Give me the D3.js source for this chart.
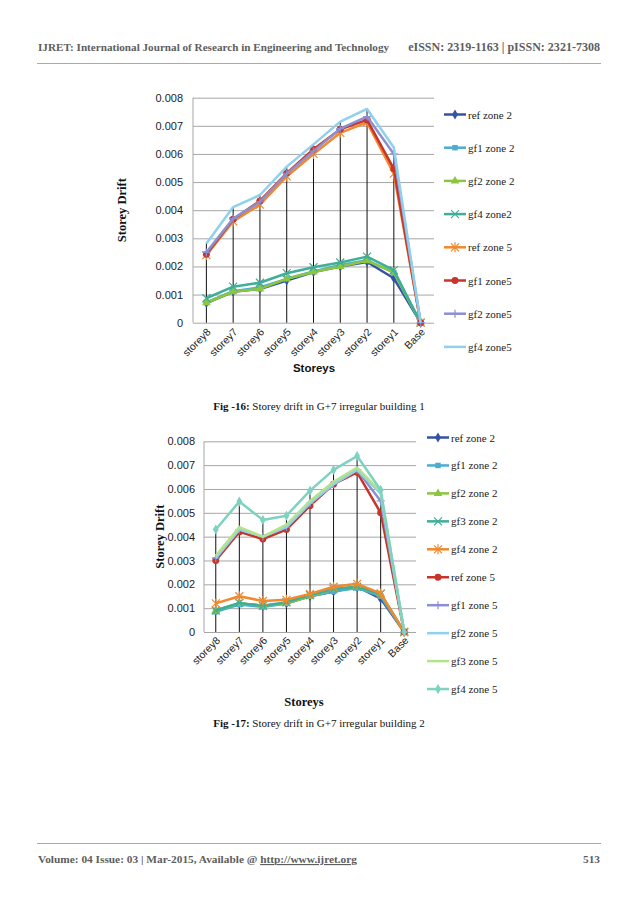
<!DOCTYPE html>
<html>
<head>
<meta charset="utf-8">
<script src="https://cdn.jsdelivr.net/npm/d3@7/dist/d3.min.js"></script>
<style>
  html, body { margin: 0; padding: 0; background: #fff; }
  svg { display: block; }
</style>
</head>
<body>
<svg id="page" width="638" height="903"></svg>
<script>
// ---------------- DATA ----------------
const categories = ["storey8", "storey7", "storey6", "storey5", "storey4", "storey3", "storey2", "storey1", "Base"];
const yTickValues = [0, 0.001, 0.002, 0.003, 0.004, 0.005, 0.006, 0.007, 0.008];

// Fig -16 (building 1)
const fig16Names = ["ref zone 2", "gf1 zone 2", "gf2 zone 2", "gf4 zone2", "ref zone 5", "gf1 zone5", "gf2 zone5", "gf4 zone5"];
const f16RefZ2 = [0.0007, 0.0011, 0.0012, 0.0015, 0.0018, 0.0020, 0.00216, 0.00158, 0];
const f16Gf1Z2 = [0.00072, 0.00112, 0.00125, 0.00156, 0.00182, 0.00205, 0.00222, 0.00178, 0];
const f16Gf2Z2 = [0.00071, 0.0011, 0.0012, 0.00156, 0.0018, 0.002, 0.0022, 0.0018, 0];
const f16Gf4Z2 = [0.00087, 0.00128, 0.00142, 0.00176, 0.00197, 0.00214, 0.00235, 0.00187, 0];
const f16RefZ5 = [0.0024, 0.0036, 0.0042, 0.0052, 0.0060, 0.00675, 0.00712, 0.0053, 0];
const f16Gf1Z5 = [0.00243, 0.00368, 0.00433, 0.00532, 0.00617, 0.00688, 0.00721, 0.00547, 0];
const f16Gf2Z5 = [0.0025, 0.0037, 0.0043, 0.0053, 0.0061, 0.0069, 0.00733, 0.0060, 0];
const f16Gf4Z5 = [0.00282, 0.00411, 0.00454, 0.00555, 0.00634, 0.00715, 0.0076, 0.00623, 0];

// Fig -17 (building 2)
const fig17Names = ["ref zone 2", "gf1 zone 2", "gf2 zone 2", "gf3 zone 2", "gf4 zone 2", "ref zone 5", "gf1 zone 5", "gf2 zone 5", "gf3 zone 5", "gf4 zone 5"];
const f17RefZ2 = [0.0009, 0.0012, 0.0011, 0.0012, 0.0015, 0.0017, 0.0019, 0.0014, 0];
const f17Gf1Z2 = [0.00085, 0.00115, 0.00105, 0.0012, 0.0015, 0.0017, 0.00185, 0.0015, 0];
const f17Gf2Z2 = [0.0009, 0.0012, 0.0011, 0.0012, 0.0015, 0.0018, 0.0019, 0.0016, 0];
const f17Gf3Z2 = [0.0009, 0.00122, 0.0011, 0.00125, 0.00155, 0.0018, 0.0019, 0.0016, 0];
const f17Gf4Z2 = [0.0012, 0.0015, 0.0013, 0.00135, 0.0016, 0.0019, 0.00202, 0.00162, 0];
const f17RefZ5 = [0.0030, 0.0042, 0.0039, 0.0043, 0.0053, 0.0062, 0.0067, 0.0050, 0];
const f17Gf1Z5 = [0.0031, 0.0043, 0.0040, 0.0044, 0.0054, 0.0062, 0.0068, 0.0055, 0];
const f17Gf2Z5 = [0.0031, 0.0043, 0.0040, 0.0044, 0.0054, 0.0062, 0.0068, 0.0058, 0];
const f17Gf3Z5 = [0.0032, 0.0044, 0.0040, 0.0045, 0.0055, 0.0063, 0.0069, 0.0059, 0];
const f17Gf4Z5 = [0.0043, 0.00547, 0.0047, 0.00488, 0.00593, 0.0068, 0.00738, 0.00596, 0];

// ---------------- STYLE ----------------
const fig16Style = [
  { color: "#3553a3", marker: "diamond" },
  { color: "#4aaed0", marker: "square" },
  { color: "#8cc63e", marker: "triangle" },
  { color: "#3fae98", marker: "x" },
  { color: "#f0892f", marker: "asterisk" },
  { color: "#c7352a", marker: "circle" },
  { color: "#8c8fd0", marker: "plus" },
  { color: "#8fd0ec", marker: "none" }
];
const fig17Style = [
  { color: "#3553a3", marker: "diamond" },
  { color: "#4aaed0", marker: "square" },
  { color: "#8cc63e", marker: "triangle" },
  { color: "#3fae98", marker: "x" },
  { color: "#f0892f", marker: "asterisk" },
  { color: "#c7352a", marker: "circle" },
  { color: "#8c8fd0", marker: "plus" },
  { color: "#8fd0ec", marker: "none" },
  { color: "#b3e48a", marker: "none" },
  { color: "#7fd2bf", marker: "diamond" }
];

const svg = d3.select("#page");
svg.append("rect").attr("width", 638).attr("height", 903).attr("fill", "#fff");

const serif = "'Liberation Serif', 'Times New Roman', serif";
const sans = "'Liberation Sans', Arial, sans-serif";

// font size that makes a string fit a target width (no glyph squeezing)
const measureCtx = document.createElement("canvas").getContext("2d");
function fitSize(str, weight, family, target) {
  measureCtx.font = `${weight} 20px ${family}`;
  return 20 * target / measureCtx.measureText(str).width;
}

// ---------------- HEADER / FOOTER ----------------
const headLeft = "IJRET: International Journal of Research in Engineering and Technology";
const headRight = "eISSN: 2319-1163 | pISSN: 2321-7308";
svg.append("text").attr("x", 38).attr("y", 51)
  .attr("font-family", serif).attr("font-weight", "bold")
  .attr("font-size", fitSize(headLeft, "bold", serif, 352))
  .attr("fill", "#5e5e5e").text(headLeft);
svg.append("text").attr("x", 600).attr("y", 51).attr("text-anchor", "end")
  .attr("font-family", serif).attr("font-weight", "bold")
  .attr("font-size", fitSize(headRight, "bold", serif, 192))
  .attr("fill", "#5e5e5e").text(headRight);
svg.append("line").attr("x1", 37).attr("x2", 601).attr("y1", 63.5).attr("y2", 63.5)
  .attr("stroke", "#aaa").attr("stroke-width", 1.2);

svg.append("line").attr("x1", 37).attr("x2", 601).attr("y1", 843.5).attr("y2", 843.5)
  .attr("stroke", "#aaa").attr("stroke-width", 1.2);
const footA = "Volume: 04 Issue: 03 | Mar-2015, Available @ ";
const footB = "http://www.ijret.org";
const footSize = fitSize(footA + footB, "bold", serif, 320);
const foot = svg.append("text").attr("x", 38).attr("y", 863)
  .attr("font-family", serif).attr("font-weight", "bold").attr("font-size", footSize).attr("fill", "#5e5e5e");
foot.append("tspan").text(footA);
foot.append("tspan").attr("text-decoration", "underline").text(footB);
svg.append("text").attr("x", 600).attr("y", 863).attr("text-anchor", "end")
  .attr("font-family", serif).attr("font-weight", "bold").attr("font-size", footSize).attr("fill", "#5e5e5e")
  .text("513");

// ---------------- MARKERS ----------------
function drawMarker(g, type, cx, cy, color) {
  const s = 4;
  if (type === "none") return;
  if (type === "diamond") {
    g.append("path").attr("d", d3.symbol(d3.symbolDiamond, 30)()).attr("transform", `translate(${cx},${cy})`).attr("fill", color);
  } else if (type === "square") {
    g.append("path").attr("d", d3.symbol(d3.symbolSquare, 30)()).attr("transform", `translate(${cx},${cy})`).attr("fill", color);
  } else if (type === "triangle") {
    g.append("path").attr("d", d3.symbol(d3.symbolTriangle, 32)()).attr("transform", `translate(${cx},${cy})`).attr("fill", color);
  } else if (type === "circle") {
    g.append("path").attr("d", d3.symbol(d3.symbolCircle, 38)()).attr("transform", `translate(${cx},${cy})`).attr("fill", color);
  } else if (type === "x") {
    g.append("path").attr("d", `M${cx - s},${cy - s}L${cx + s},${cy + s}M${cx - s},${cy + s}L${cx + s},${cy - s}`)
      .attr("stroke", color).attr("stroke-width", 1.2).attr("fill", "none");
  } else if (type === "asterisk") {
    g.append("path").attr("d", `M${cx - s},${cy - s}L${cx + s},${cy + s}M${cx - s},${cy + s}L${cx + s},${cy - s}M${cx},${cy - s - 1}L${cx},${cy + s + 1}`)
      .attr("stroke", color).attr("stroke-width", 1.2).attr("fill", "none");
  } else if (type === "plus") {
    g.append("path").attr("d", `M${cx - s},${cy}L${cx + s},${cy}M${cx},${cy - s}L${cx},${cy + s}`)
      .attr("stroke", color).attr("stroke-width", 1.2).attr("fill", "none");
  }
}

// ---------------- CHART ----------------
function drawChart(cfg) {
  const g = svg.append("g");
  const x = d3.scaleBand().domain(categories).range([cfg.left, cfg.right]);
  const cx = c => x(c) + x.bandwidth() / 2;
  const y = d3.scaleLinear().domain([0, 0.008]).range([cfg.bottom, cfg.top]);
  const fmt = d => d === 0 ? "0" : d3.format(".3f")(d);

  // gridlines
  const grid = g.append("g").attr("transform", `translate(${cfg.left},0)`)
    .call(d3.axisLeft(y).tickValues(yTickValues).tickSize(-(cfg.right - cfg.left)).tickFormat(""));
  grid.select(".domain").remove();
  grid.selectAll("line").attr("stroke", "#a6a6a6").attr("stroke-width", 1);

  // left axis line
  g.append("line").attr("x1", cfg.left).attr("x2", cfg.left).attr("y1", cfg.top).attr("y2", cfg.bottom)
    .attr("stroke", "#a6a6a6");

  // y tick labels
  const yAxis = g.append("g").attr("transform", `translate(${cfg.left},0)`)
    .call(d3.axisLeft(y).tickValues(yTickValues).tickSize(0).tickPadding(cfg.tickPad).tickFormat(fmt));
  yAxis.select(".domain").remove();
  yAxis.selectAll("text").attr("font-family", sans).attr("font-size", cfg.tickFont).attr("fill", "#222");

  // x axis labels
  const xAxis = g.append("g").attr("transform", `translate(0,${cfg.bottom})`)
    .call(d3.axisBottom(x).tickSize(0).tickPadding(0));
  xAxis.select(".domain").remove();
  xAxis.selectAll("text")
    .attr("font-family", sans).attr("font-size", cfg.catFont).attr("fill", "#222")
    .attr("text-anchor", "end").attr("dy", 0).attr("y", 0)
    .attr("transform", `translate(5,${cfg.catOffset}) rotate(-45)`);

  // drop lines
  categories.forEach((c, i) => {
    const maxV = d3.max(cfg.series, s => s.values[i]);
    g.append("line").attr("x1", cx(c)).attr("x2", cx(c)).attr("y1", y(0)).attr("y2", y(maxV))
      .attr("stroke", "#111").attr("stroke-width", 1);
  });

  // series
  const line = d3.line().x((d, i) => cx(categories[i])).y(d => y(d));
  cfg.series.forEach((s, k) => {
    g.append("path").datum(s.values).attr("d", line).attr("fill", "none")
      .attr("stroke", s.color).attr("stroke-width", 2.5).attr("stroke-linejoin", "round");
    s.values.forEach((v, i) => drawMarker(g, s.marker, cx(categories[i]), y(v), s.color));
  });

  // legend
  cfg.series.forEach((s, k) => {
    const ly = cfg.legTop + k * cfg.legStep;
    g.append("line").attr("x1", cfg.legX).attr("x2", cfg.legX + 22).attr("y1", ly).attr("y2", ly)
      .attr("stroke", s.color).attr("stroke-width", 2.5);
    drawMarker(g, s.marker, cfg.legX + 11, ly, s.color);
    g.append("text").attr("x", cfg.legX + 24).attr("y", ly + 4)
      .attr("font-family", serif).attr("font-size", 11).attr("fill", "#222").text(s.name);
  });

  // axis titles
  g.append("text").attr("transform", `translate(${cfg.yTitleX},${(cfg.top + cfg.bottom) / 2}) rotate(-90)`)
    .attr("text-anchor", "middle").attr("font-family", serif).attr("font-weight", "bold")
    .attr("font-size", 12.5).attr("fill", "#111").text("Storey Drift");
  g.append("text").attr("x", cfg.xTitleX).attr("y", cfg.xTitleY).attr("text-anchor", "middle")
    .attr("font-family", cfg.xTitleFont).attr("font-weight", "bold").attr("font-size", cfg.xTitleSize)
    .attr("fill", "#111").text("Storeys");

  // caption
  const cap = g.append("text").attr("x", cfg.capX).attr("y", cfg.capY).attr("text-anchor", "middle")
    .attr("font-family", serif).attr("font-size", 11).attr("fill", "#111");
  cap.append("tspan").attr("font-weight", "bold").text(cfg.capBold);
  cap.append("tspan").text(cfg.capText);
}

const fig16Values = [f16RefZ2, f16Gf1Z2, f16Gf2Z2, f16Gf4Z2, f16RefZ5, f16Gf1Z5, f16Gf2Z5, f16Gf4Z5];
const fig17Values = [f17RefZ2, f17Gf1Z2, f17Gf2Z2, f17Gf3Z2, f17Gf4Z2, f17RefZ5, f17Gf1Z5, f17Gf2Z5, f17Gf3Z5, f17Gf4Z5];

drawChart({
  left: 193, right: 434, top: 97.7, bottom: 322.7,
  tickPad: 10, tickFont: 11, catFont: 10.5, catOffset: 10,
  series: fig16Names.map((n, k) => ({ name: n, values: fig16Values[k], ...fig16Style[k] })),
  legX: 444, legTop: 114.5, legStep: 33.2,
  yTitleX: 126, xTitleX: 314, xTitleY: 372, xTitleFont: sans, xTitleSize: 11.5,
  capX: 319, capY: 410, capBold: "Fig -16:", capText: " Storey drift in G+7 irregular building 1"
});

drawChart({
  left: 204, right: 416, top: 441.3, bottom: 632,
  tickPad: 9, tickFont: 11, catFont: 10.5, catOffset: 9,
  series: fig17Names.map((n, k) => ({ name: n, values: fig17Values[k], ...fig17Style[k] })),
  legX: 427, legTop: 437.5, legStep: 27.95,
  yTitleX: 164, xTitleX: 304, xTitleY: 706, xTitleFont: serif, xTitleSize: 12.5,
  capX: 319, capY: 727, capBold: "Fig -17:", capText: " Storey drift in G+7 irregular building 2"
});
</script>
</body>
</html>
